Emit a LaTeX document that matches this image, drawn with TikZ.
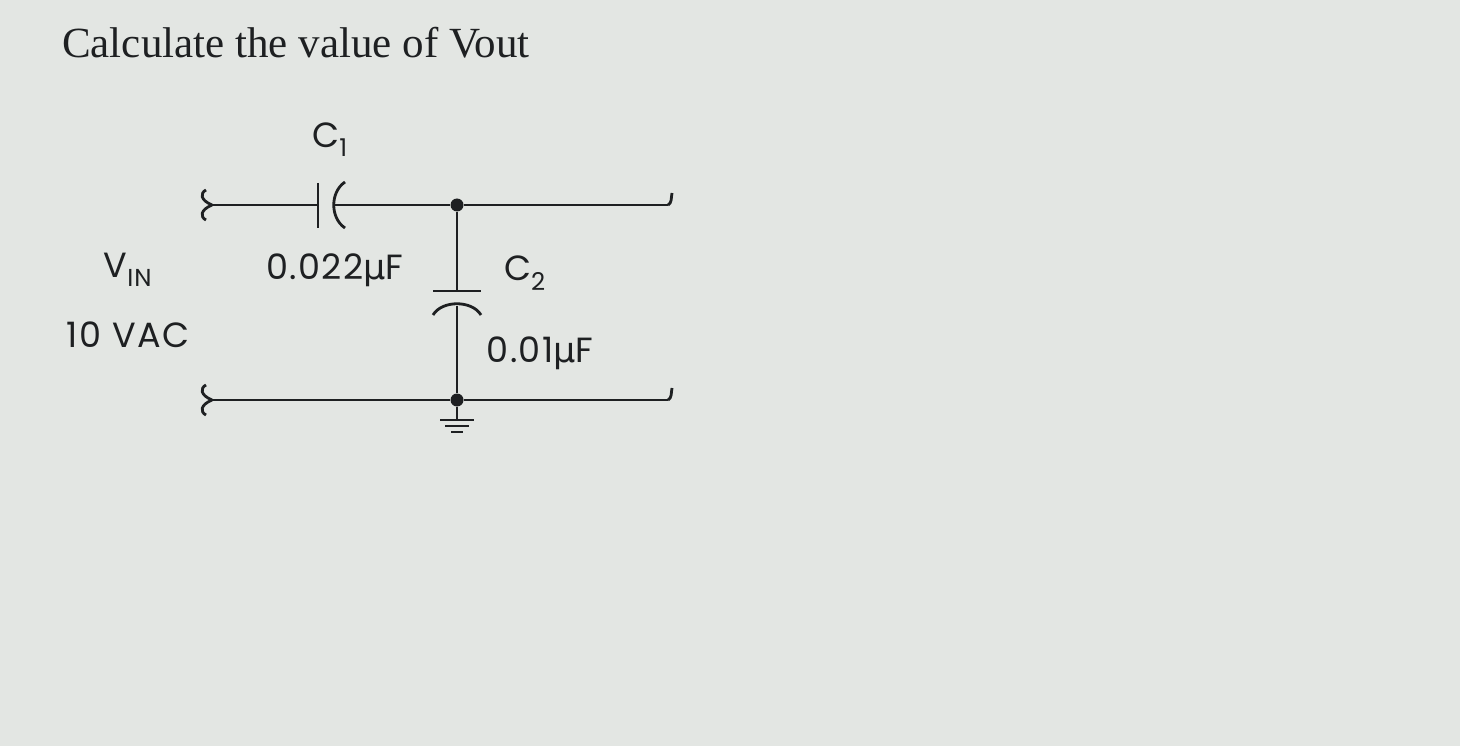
\documentclass[tikz,border=0pt]{standalone}
\usepackage{fontspec}
\setmainfont{Liberation Serif}
\newfontfamily\cf{Poppins}[LetterSpace=4]
\newfontfamily\gf{DejaVu Sans}
\definecolor{bg}{HTML}{E3E6E3}
\definecolor{ink}{HTML}{1E2022}
\begin{document}
\begin{tikzpicture}[x=1pt,y=-1pt,
  wire/.style={ink,line width=2.8pt},
  lbl/.style={ink,font=\cf\fontsize{35}{37}\selectfont,inner sep=0pt},
  dotn/.style={circle,fill=ink,inner sep=0pt,minimum size=13pt}]
\fill[bg] (0,0) rectangle (1460,746);
\useasboundingbox (0,0) rectangle (1460,746);
\node[anchor=base west,ink,font=\fontsize{43}{45}\selectfont,inner sep=0pt] (title) at (62,58) {Calculate the value of Vout};
% coordinates
\coordinate (tl) at (212,205); \coordinate (tr) at (668,205);
\coordinate (bl) at (212,400); \coordinate (br) at (668,400);
\coordinate (p1) at (318,205); \coordinate (p1b) at (334,205);
\node[dotn] (j1) at (457,205) {};
\node[dotn] (j2) at (457,400) {};
\coordinate (p2) at (457,291); \coordinate (p2b) at (457,306);
\coordinate (g) at (457,420);
% wires
\draw[wire] (tl) -- (p1); \draw[wire] (p1b) -- (j1) -- (tr);
\draw[wire] (bl) -- (j2) -- (br);
\draw[wire] (j1) -- (p2); \draw[wire] (p2b) -- (j2) -- (g);
% C1
\draw[wire] (318,183) -- (318,228);
\draw[wire] (345,182) .. controls (330,192) and (330,218) .. (345,228);
% C2
\draw[wire] (433,291) -- (481,291);
\draw[wire] (433,315) .. controls (442,300) and (472,300) .. (481,315);
% ground
\draw[wire] (440,420) -- (474,420);
\draw[wire] (445,426) -- (469,426);
\draw[wire] (451,432) -- (463,432);
% terminals
\draw[wire] (tl) .. controls (200,200) and (200,193) .. (206,190);
\draw[wire] (tl) .. controls (200,210) and (200,217) .. (206,220);
\draw[wire] (bl) .. controls (200,395) and (200,388) .. (206,385);
\draw[wire] (bl) .. controls (200,405) and (200,412) .. (206,415);
\draw[wire] (tr) .. controls (672,203) and (671,198) .. (672,193);
\draw[wire] (br) .. controls (672,398) and (671,393) .. (672,388);
% labels
\node[lbl] (c1) at (330,140) {C\textsubscript{1}};
\node[lbl] (v1) at (335,270) {0.022{\gf μ}F};
\node[lbl] (vin) at (128,270) {V\textsubscript{IN}};
\node[lbl] (vac) at (128,335) {10 VAC};
\node[lbl] (c2) at (525,273) {C\textsubscript{2}};
\node[lbl] (v2) at (540,353) {0.01{\gf μ}F};
\end{tikzpicture}
\end{document}
